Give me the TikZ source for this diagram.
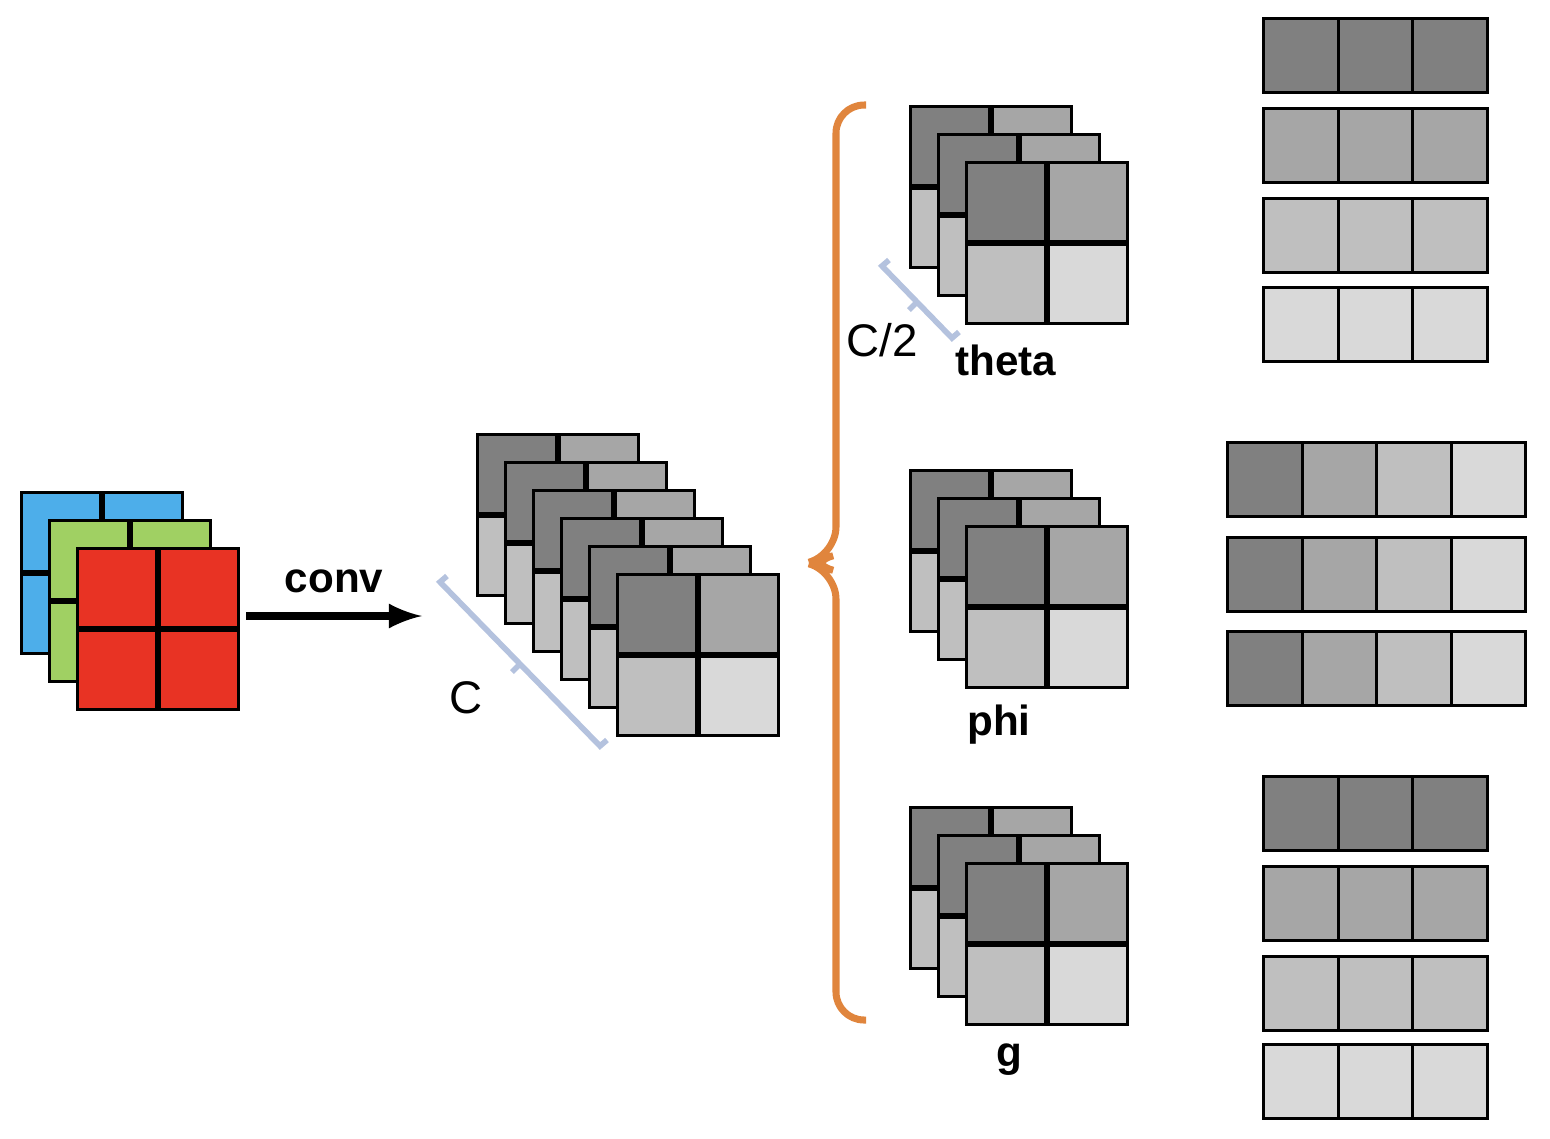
\documentclass[tikz,border=0pt]{standalone}
\usepackage{fontspec}
\setmainfont{Liberation Sans}
\usetikzlibrary{positioning,calc}
\definecolor{dk}{gray}{0.5}
\definecolor{md}{gray}{0.65}
\definecolor{lt}{gray}{0.75}
\definecolor{xl}{gray}{0.85}
\definecolor{inblue}{HTML}{4DAEEA}
\definecolor{ingreen}{HTML}{A0D063}
\definecolor{inred}{HTML}{E83324}
\definecolor{brk}{HTML}{B4C2DE}
\definecolor{orng}{HTML}{E0853D}
% one 2x2 feature map, top-left corner at (#1,#2)
\newcommand{\fmap}[7]{%
  \node[cell,fill=#4] (#3a) at ({#1},{-(#2)}) {};
  \node[cell,fill=#5,right=0pt of #3a.north east,anchor=north west] (#3b) {};
  \node[cell,fill=#6,below=0pt of #3a.south west,anchor=north west] (#3c) {};
  \node[cell,fill=#7,right=0pt of #3c.north east,anchor=north west] (#3d) {};}
% one row of cells
\newcommand{\crow}[5]{%
  \foreach \cc [count=\i from 0] in {#5} {
    \node[bar,fill=\cc] (#3\i) at ({#1+#4*\i},{-(#2)}) {};}}
\begin{document}
\begin{tikzpicture}[x=0.01cm,y=0.01cm,
  cell/.style={draw,line width=0.9pt,minimum size=0.79cm,inner sep=0pt,anchor=north west},
  bar/.style={draw,line width=0.9pt,minimum width=0.745cm,minimum height=0.74cm,inner sep=0pt,anchor=north west},
  lbl/.style={font=\fontsize{12}{14}\selectfont\bfseries},
  brk/.style={draw=brk,line width=1.6pt}]
\useasboundingbox (0,0) rectangle (1550,-1138);

% input
\fmap{20}{491}{bl}{inblue}{inblue}{inblue}{inblue}
\fmap{48}{519}{gr}{ingreen}{ingreen}{ingreen}{ingreen}
\fmap{76}{547}{rd}{inred}{inred}{inred}{inred}

% conv
\coordinate (s) at (246,-616);
\coordinate (t) at (422,-616);
\draw[line width=2.2pt,-latex] (s) -- (t) node[lbl,midway,above=2pt] {conv};

% C feature maps
\foreach \k in {0,...,5}{
  \fmap{476+28*\k}{433+28*\k}{m\k}{dk}{md}{lt}{xl}
}
\coordinate (c1) at (440,-582);
\coordinate (c2) at (600,-746);
\coordinate (cm) at (520,-664);
\draw[brk] ($(c1)+(7,6)$) -- (c1) -- (c2) -- ($(c2)+(7,6)$);
\draw[brk] (cm) -- ++(-8,-8);
\node[font=\fontsize{13}{15}\selectfont] (clab) at (466,-698) {C};

% orange brace
\coordinate (o1) at (866,-105);
\coordinate (o2) at (866,-1020);
\coordinate (om) at (806,-563);
\draw[orng,line width=2pt,rounded corners=8pt]
  (o1) -- (836,-105) -- (836,-555) -- (om) -- (836,-571) -- (836,-1020) -- (o2);

% theta, phi, g
\foreach \n/\yy in {th/105,ph/469,gg/806}{
  \foreach \k in {0,1,2}{
    \fmap{909+28*\k}{\yy+28*\k}{\n\k}{dk}{md}{lt}{xl}
  }
}
\node[lbl] (thl) at (1006,-360) {theta};
\node[lbl] (phl) at (999,-725) {phi};
\node[lbl] (ggl) at (1009,-1060) {g};
\coordinate (h1) at (882,-266);
\coordinate (h2) at (952,-338);
\coordinate (hm) at (917,-302);
\draw[brk] ($(h1)+(7,6)$) -- (h1) -- (h2) -- ($(h2)+(7,6)$);
\draw[brk] (hm) -- ++(-8,-8);
\node[font=\fontsize{13}{15}\selectfont] (hlab) at (882,-340) {C/2};

% flattened rows
\foreach \yy/\col [count=\r] in {17/dk,107/md,197/lt,286/xl}{
  \crow{1262}{\yy}{ta\r}{74.5}{\col,\col,\col}
}
\foreach \yy [count=\r] in {441,536,630}{
  \crow{1226}{\yy}{pa\r}{74.5}{dk,md,lt,xl}
}
\foreach \yy/\col [count=\r] in {775/dk,865/md,955/lt,1043/xl}{
  \crow{1262}{\yy}{ga\r}{74.5}{\col,\col,\col}
}
\end{tikzpicture}
\end{document}
